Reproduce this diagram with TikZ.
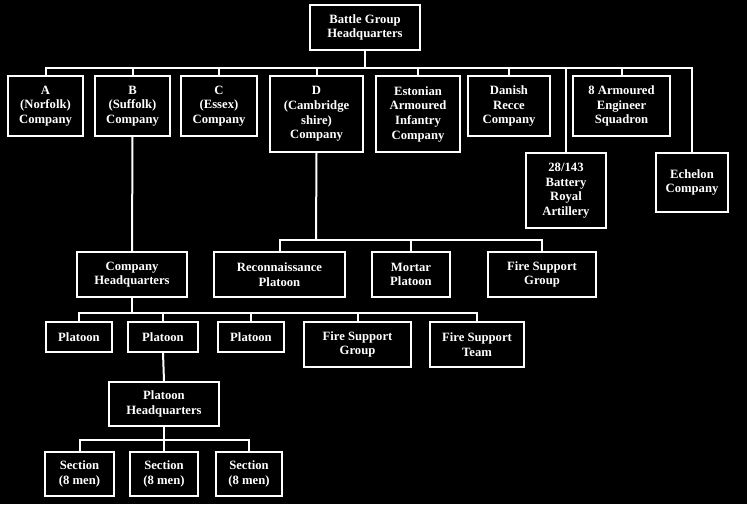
\documentclass[tikz,border=0pt]{standalone}
\usepackage{fontspec}
\setmainfont{Liberation Serif}
\begin{document}
\begin{tikzpicture}[x=0.75pt,y=-0.75pt,
  box/.style={draw=white,line width=1.5pt,text=white,font=\bfseries\fontsize{9.5}{11}\selectfont,align=center,inner sep=0pt},
  ln/.style={draw=white,line width=1.5pt}]
\fill[black] (0,0) rectangle (747,504);
\useasboundingbox (0,0) rectangle (747,504);
\newcommand\bx[6]{\node[box,minimum width=#4*0.75pt,minimum height=#5*0.75pt] (#1) at (#2,#3) {#6};}
\bx{bg}{365}{27.5}{110}{45}{Battle Group\\Headquarters}
\bx{a}{45.5}{106}{75}{60}{A\\(Norfolk)\\Company}
\bx{b}{132.5}{106}{75}{60}{B\\(Suffolk)\\Company}
\bx{c}{219}{106}{76}{60}{C\\(Essex)\\Company}
\bx{d}{316.5}{114}{93}{76}{D\\(Cambridge\\shire)\\Company}
\bx{e}{418}{114}{84}{76}{Estonian\\Armoured\\Infantry\\Company}
\bx{dk}{509}{106}{82}{60}{Danish\\Recce\\Company}
\bx{ae}{621.5}{106}{97}{60}{8 Armoured\\Engineer\\Squadron}
\bx{ra}{566}{190.5}{80}{75}{28/143\\Battery\\Royal\\Artillery}
\bx{ec}{692}{182.5}{72}{59}{Echelon\\Company}
\bx{chq}{132}{274.5}{110}{45}{Company\\Headquarters}
\bx{rp}{279.5}{274.5}{131}{45}{Reconnaissance\\Platoon}
\bx{mp}{411}{274.5}{78}{45}{Mortar\\Platoon}
\bx{fsg}{542}{274.5}{108}{45}{Fire Support\\Group}
\bx{p1}{79}{337}{66}{30}{Platoon}
\bx{p2}{163}{337}{70}{30}{Platoon}
\bx{p3}{251}{337}{66}{30}{Platoon}
\bx{fg2}{357.5}{344.5}{107}{45}{Fire Support\\Group}
\bx{ft}{477}{344.5}{94}{45}{Fire Support\\Team}
\bx{phq}{164}{404}{110}{44}{Platoon\\Headquarters}
\bx{s1}{79.5}{474}{69}{44}{Section\\(8 men)}
\bx{s2}{164}{474}{68}{44}{Section\\(8 men)}
\bx{s3}{249}{474}{66}{44}{Section\\(8 men)}
\coordinate (t) at (365,68);
\draw[ln] (bg.south) -- (t);
\draw[ln] (a.north) |- (ec.north |- t) -- (ec.north);
\foreach \n in {b,c,d,e,dk,ae,ra} \draw[ln] (\n.north) -- (\n.north |- t);
\draw[ln] (b.south) -- (chq.north);
\coordinate (dt) at (316,240);
\draw[ln] (d.south) -- (dt);
\draw[ln] (rp.north) |- (dt) -| (fsg.north);
\draw[ln] (mp.north) -- (mp.north |- dt);
\coordinate (ct) at (132,313);
\draw[ln] (chq.south) -- (ct);
\draw[ln] (p1.north) |- (ct) -| (ft.north);
\foreach \n in {p2,p3,fg2} \draw[ln] (\n.north) -- (\n.north |- ct);
\draw[ln] (p2.south) -- (phq.north);
\coordinate (pt) at (164,440);
\draw[ln] (phq.south) -- (pt);
\draw[ln] (s1.north) |- (pt) -| (s3.north);
\draw[ln] (s2.north) -- (s2.north |- pt);
\end{tikzpicture}
\end{document}
